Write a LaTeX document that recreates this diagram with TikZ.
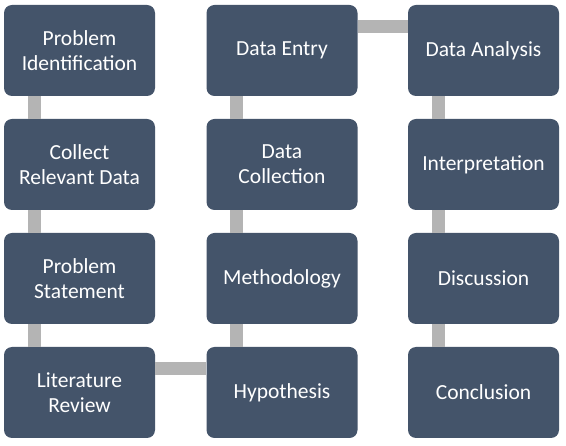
\documentclass[tikz,border=0pt]{standalone}
\usepackage{fontspec}
\setmainfont{Carlito}
\definecolor{boxblue}{HTML}{44546A}
\definecolor{conngray}{HTML}{B4B4B4}
\begin{document}
\begin{tikzpicture}[x=1pt,y=1pt,
  stepbox/.style={rectangle, rounded corners=8pt, fill=boxblue, minimum width=151pt, minimum height=91pt, text=white, align=flush center, font=\fontsize{21.5}{25}\selectfont, text width=145pt, inner sep=0pt},
  conn/.style={draw=conngray, line width=13pt}]
\useasboundingbox (0,0) rectangle (566,-446);
\fill[white] (0,0) rectangle (566,-446);
\node[stepbox] (a1) at (79.5,-50.5) {Problem\\Identification};
\node[stepbox] (a2) at (79.5,-164.5) {Collect\\Relevant Data};
\node[stepbox] (a3) at (79.5,-278.5) {Problem\\Statement};
\node[stepbox] (a4) at (79.5,-392.5) {Literature\\Review};
\node[stepbox] (b1) at (282,-50.5) {Data Entry};
\node[stepbox] (b2) at (282,-164.5) {Data\\Collection};
\node[stepbox] (b3) at (282,-278.5) {Methodology};
\node[stepbox] (b4) at (282,-392.5) {Hypothesis};
\node[stepbox] (c1) at (483.5,-50.5) {Data Analysis};
\node[stepbox] (c2) at (483.5,-164.5) {Interpretation};
\node[stepbox] (c3) at (483.5,-278.5) {Discussion};
\node[stepbox] (c4) at (483.5,-392.5) {Conclusion};
\foreach \u/\v in {a1/a2,a2/a3,a3/a4,b1/b2,b2/b3,b3/b4,c1/c2,c2/c3,c3/c4}
  \draw[conn] ([xshift=-45.5pt]\u.south) -- ([xshift=-45.5pt]\v.north);
\draw[conn] ([yshift=24pt]a4.east) -- ([yshift=24pt]b4.west);
\draw[conn] ([yshift=23.5pt]b1.east) -- ([yshift=23.5pt]c1.west);
\end{tikzpicture}
\end{document}
